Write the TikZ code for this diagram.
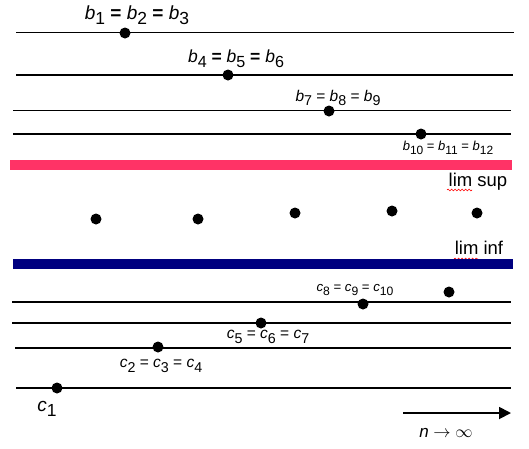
\documentclass[tikz,border=0pt]{standalone}
\usepackage{fontspec}
\setmainfont{Liberation Sans}
\usetikzlibrary{arrows.meta,decorations.pathmorphing}
\newcommand\sq[2]{\textit{#1}\raisebox{-0.55ex}{\fontsize{0.92em}{1em}\selectfont #2}}
\newcommand\fs[1]{\fontsize{#1}{#1}\selectfont}
\newcommand\beq{\textbf{=}}
\tikzset{
  hline/.style={line width=1.2pt,black},
  seqdot/.style={circle,fill=black,inner sep=0pt,minimum size=11pt},
  lbl/.style={inner sep=0pt,text=black},
  squig/.style={red,line width=0.6pt,decorate,decoration={snake,amplitude=0.9pt,segment length=3.5pt}}
}
\begin{document}
\begin{tikzpicture}[x=1pt,y=-1pt]
\useasboundingbox[fill=white] (0,0) rectangle (529,448);
% b lines
\draw[hline] (16,32.5) -- (514,32.5);
\draw[hline] (16,75) -- (513,75);
\draw[hline] (13,110.5) -- (511,110.5);
\draw[hline] (13,134) -- (511,134);
\node[seqdot] (b1) at (125,33) {};
\node[seqdot] (b4) at (228,75) {};
\node[seqdot] (b7) at (329,111) {};
\node[seqdot] (b10) at (421,134) {};
\node[lbl,font=\fs{19}] (lb1) at (137,15) {\sq{b}{1} \beq{} \sq{b}{2} \beq{} \sq{b}{3}};
\node[lbl,font=\fs{17.5}] (lb4) at (236,59) {\sq{b}{4} \beq{} \sq{b}{5} \beq{} \sq{b}{6}};
\node[lbl,font=\fs{15.5}] (lb7) at (338,98) {\sq{b}{7} = \sq{b}{8} = \sq{b}{9}};
\node[lbl,font=\fs{13}] (lb10) at (448,148) {\sq{b}{10} = \sq{b}{11} = \sq{b}{12}};
% lim sup band
\fill[color={rgb,255:red,255;green,51;blue,102}] (10,160) rectangle (512,170);
\node[lbl,font=\fs{18.5}] (lsup) at (478,182) {lim sup};
\draw[squig] (447,190) -- (472,190);
% middle dots
\node[seqdot] (m1) at (96,219) {};
\node[seqdot] (m2) at (198,219) {};
\node[seqdot] (m3) at (295,213) {};
\node[seqdot] (m4) at (392,211) {};
\node[seqdot] (m5) at (477,213) {};
% lim inf band
\node[lbl,font=\fs{18.5}] (linf) at (479,248) {lim inf};
\draw[squig] (454,259) -- (478,259);
\fill[color={rgb,255:red,0;green,0;blue,128}] (13,259) rectangle (513,269);
% c lines
\draw[hline] (12,302) -- (511,302);
\draw[hline] (12,323) -- (511,323);
\draw[hline] (15,348) -- (511,348);
\draw[hline] (16,388) -- (511,388);
\node[seqdot] (c8) at (363,304) {};
\node[seqdot] (cx) at (449,292) {};
\node[seqdot] (c5) at (261,323) {};
\node[seqdot] (c2) at (158,347) {};
\node[seqdot] (c1) at (57,388) {};
\node[lbl,font=\fs{13.2}] (lc8) at (355,290) {\sq{c}{8} = \sq{c}{9} = \sq{c}{10}};
\node[lbl,font=\fs{15.5}] (lc5) at (268,337) {\sq{c}{5} = \sq{c}{6} = \sq{c}{7}};
\node[lbl,font=\fs{15.5}] (lc2) at (161,366) {\sq{c}{2} = \sq{c}{3} = \sq{c}{4}};
\node[lbl,font=\fs{19}] (lc1) at (47,409) {\sq{c}{1}};
% arrow
\coordinate (a0) at (403,413);
\coordinate (a1) at (511,413);
\draw[line width=1.8pt,-{Triangle[length=12pt,width=12pt]}] (a0) -- (a1);
\node[lbl,font=\fs{17}] (ninf) at (446,433) {\textit{n} $\rightarrow$ $\infty$};
\end{tikzpicture}
\end{document}
